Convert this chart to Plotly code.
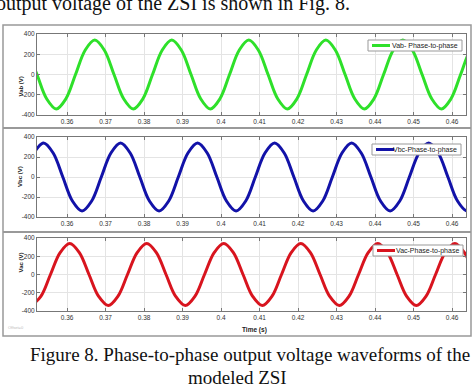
import plotly.graph_objects as go

W, H = 474, 391

# ---------------- data ----------------
t_ab = [0.3497, 0.3522, 0.3547, 0.3572, 0.3597, 0.3622, 0.3647, 0.3672, 0.3697, 0.3722,
        0.3747, 0.3772, 0.3797, 0.3822, 0.3847, 0.3872, 0.3897, 0.3922, 0.3947, 0.3972,
        0.3997, 0.4022, 0.4047, 0.4072, 0.4097, 0.4122, 0.4147, 0.4172, 0.4197, 0.4222,
        0.4247, 0.4272, 0.4297, 0.4322, 0.4347, 0.4372, 0.4397, 0.4422, 0.4447, 0.4472,
        0.4497, 0.4522, 0.4547, 0.4572, 0.4597, 0.4622, 0.4647, 0.4672]
v_ab = [240, 0, -240, -340, -240, 0, 240, 340, 240, 0,
        -240, -340, -240, 0, 240, 340, 240, 0, -240, -340,
        -240, 0, 240, 340, 240, 0, -240, -340, -240, 0,
        240, 340, 240, 0, -240, -340, -240, 0, 240, 340,
        240, 0, -240, -340, -240, 0, 240, 340]

t_bc = [0.3489, 0.3514, 0.3539, 0.3564, 0.3589, 0.3614, 0.3639, 0.3664, 0.3689, 0.3714,
        0.3739, 0.3764, 0.3789, 0.3814, 0.3839, 0.3864, 0.3889, 0.3914, 0.3939, 0.3964,
        0.3989, 0.4014, 0.4039, 0.4064, 0.4089, 0.4114, 0.4139, 0.4164, 0.4189, 0.4214,
        0.4239, 0.4264, 0.4289, 0.4314, 0.4339, 0.4364, 0.4389, 0.4414, 0.4439, 0.4464,
        0.4489, 0.4514, 0.4539, 0.4564, 0.4589, 0.4614, 0.4639, 0.4664]
v_bc = [0, 240, 340, 240, 0, -240, -340, -240, 0, 240,
        340, 240, 0, -240, -340, -240, 0, 240, 340, 240,
        0, -240, -340, -240, 0, 240, 340, 240, 0, -240,
        -340, -240, 0, 240, 340, 240, 0, -240, -340, -240,
        0, 240, 340, 240, 0, -240, -340, -240]

t_ac = [0.3507, 0.3532, 0.3557, 0.3582, 0.3607, 0.3632, 0.3657, 0.3682, 0.3707, 0.3732,
        0.3757, 0.3782, 0.3807, 0.3832, 0.3857, 0.3882, 0.3907, 0.3932, 0.3957, 0.3982,
        0.4007, 0.4032, 0.4057, 0.4082, 0.4107, 0.4132, 0.4157, 0.4182, 0.4207, 0.4232,
        0.4257, 0.4282, 0.4307, 0.4332, 0.4357, 0.4382, 0.4407, 0.4432, 0.4457, 0.4482,
        0.4507, 0.4532, 0.4557, 0.4582, 0.4607, 0.4632, 0.4657, 0.4682]
v_ac = [-340, -240, 0, 240, 340, 240, 0, -240, -340, -240,
        0, 240, 340, 240, 0, -240, -340, -240, 0, 240,
        340, 240, 0, -240, -340, -240, 0, 240, 340, 240,
        0, -240, -340, -240, 0, 240, 340, 240, 0, -240,
        -340, -240, 0, 240, 340, 240, 0, -240]

x_ticks = [0.36, 0.37, 0.38, 0.39, 0.40, 0.41, 0.42, 0.43, 0.44, 0.45, 0.46]
x_tick_text = ["0.36", "0.37", "0.38", "0.39", "0.4", "0.41", "0.42", "0.43", "0.44", "0.45", "0.46"]
y_ticks = [-400, -200, 0, 200, 400]
y_tick_text = ["-400", "-200", "0", "200", "400"]

series_names = ["Vab- Phase-to-phase", "Vbc-Phase-to-phase", "Vac-Phase-to-phase"]
y_titles = ["Vab (V)", "Vbc (V)", "Vac (V)"]
colors = ["#2ee02a", "#1212a8", "#d8141e"]

top_text = "output voltage of the ZSI is shown in Fig. 8."
caption_1 = "Figure 8. Phase-to-phase output voltage waveforms of the"
caption_2 = "modeled ZSI"

# ---------------- layout helpers ----------------
def px(x):
    return x / W

def py(y):
    return 1 - y / H

x_left, x_right = 37, 466
panels = [(34, 115), (137, 217), (238, 311)]  # pixel top / bottom of each plot area
legend_boxes = [(368, 40, 462, 51), (372, 144, 461, 155), (373, 245, 463, 256)]

fig = go.Figure()
all_t = [t_ab, t_bc, t_ac]
all_v = [v_ab, v_bc, v_ac]

layout = dict(
    width=W, height=H,
    margin=dict(l=0, r=0, t=0, b=0, pad=0, autoexpand=False),
    paper_bgcolor="white", plot_bgcolor="white",
    showlegend=False,
    font=dict(family="Arial, Liberation Sans, sans-serif", color="#333"),
)

shapes = []
annotations = []

for i in range(3):
    xa = "x" if i == 0 else f"x{i+1}"
    ya = "y" if i == 0 else f"y{i+1}"
    fig.add_trace(go.Scatter(
        x=all_t[i], y=all_v[i], name=series_names[i], mode="lines",
        line=dict(color=colors[i], width=3, shape="spline"),
        xaxis=xa, yaxis=ya,
    ))
    top, bot = panels[i]
    axis_common = dict(showline=True, linecolor="#777", linewidth=1, mirror="ticks",
                       ticks="inside", ticklen=3, tickcolor="#777", automargin=False,
                       showgrid=True, gridcolor="#e4e4e4", gridwidth=1, zeroline=False,
                       tickfont=dict(size=6.5, color="#333"))
    layout["xaxis" if i == 0 else f"xaxis{i+1}"] = dict(
        domain=[px(x_left), px(x_right)], range=[0.3522, 0.4636],
        tickvals=x_ticks, ticktext=x_tick_text, anchor=ya, **axis_common)
    layout["yaxis" if i == 0 else f"yaxis{i+1}"] = dict(
        domain=[py(bot), py(top)], range=[-400, 400],
        tickvals=y_ticks, ticktext=y_tick_text, anchor=xa, **axis_common)
    # y title
    annotations.append(dict(text=f"<b>{y_titles[i]}</b>", x=px(15), y=py((top + bot) / 2),
                            xref="paper", yref="paper", textangle=-90, showarrow=False,
                            font=dict(size=6, color="#222")))
    # legend box
    lx0, ly0, lx1, ly1 = legend_boxes[i]
    shapes.append(dict(type="rect", xref="paper", yref="paper", layer="above",
                       x0=px(lx0), x1=px(lx1), y0=py(ly1), y1=py(ly0),
                       fillcolor="white", line=dict(color="#999", width=1)))
    shapes.append(dict(type="line", xref="paper", yref="paper", layer="above",
                       x0=px(lx0 + 4), x1=px(lx0 + 22), y0=py((ly0 + ly1) / 2), y1=py((ly0 + ly1) / 2),
                       line=dict(color=colors[i], width=3)))
    annotations.append(dict(text=series_names[i], x=px(lx1 - 2), y=py((ly0 + ly1) / 2),
                            xref="paper", yref="paper", xanchor="right", yanchor="middle",
                            showarrow=False, font=dict(size=7, color="#222")))

# outer scope frame and separators
shapes.append(dict(type="rect", xref="paper", yref="paper", layer="below",
                   x0=px(3), x1=px(471), y0=py(336), y1=py(25),
                   line=dict(color="#999", width=1.5)))
for ysep in (128, 232):
    shapes.append(dict(type="line", xref="paper", yref="paper", layer="below",
                       x0=px(3), x1=px(471), y0=py(ysep), y1=py(ysep),
                       line=dict(color="#999", width=2)))

annotations.append(dict(text="<b>Time (s)</b>", x=px(254), y=py(330), xref="paper", yref="paper",
                        yanchor="middle", showarrow=False, font=dict(size=6.5, color="#222")))
annotations.append(dict(text="Offset=0", x=px(6), y=py(332), xref="paper", yref="paper",
                        xanchor="left", showarrow=False, font=dict(size=4, color="#bbb")))

serif = "Liberation Serif, Times New Roman, serif"
annotations.append(dict(text=top_text, x=px(-6), y=py(3), xref="paper", yref="paper",
                        xanchor="left", yanchor="middle", showarrow=False,
                        font=dict(family=serif, size=20, color="#111")))
annotations.append(dict(text=caption_1, x=px(28), y=py(354), xref="paper", yref="paper",
                        xanchor="left", yanchor="middle", showarrow=False,
                        font=dict(family=serif, size=19, color="#111")))
annotations.append(dict(text=caption_2, x=px(237), y=py(377), xref="paper", yref="paper",
                        xanchor="center", yanchor="middle", showarrow=False,
                        font=dict(family=serif, size=19, color="#111")))

layout["shapes"] = shapes
layout["annotations"] = annotations
fig.update_layout(**layout)
fig.write_html("out.html", config={"displayModeBar": False},
               post_script="document.body.style.margin='0';document.body.style.padding='0';")
